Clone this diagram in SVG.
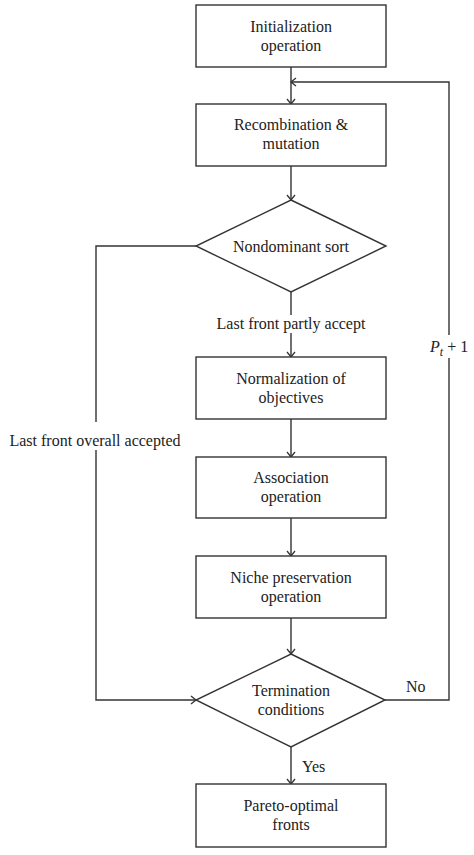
<svg xmlns="http://www.w3.org/2000/svg" width="474" height="855" viewBox="0 0 474 855">
<style>
.box{fill:#fff;stroke:#333;stroke-width:1.4}
.ln{fill:none;stroke:#333;stroke-width:1.4}
text{font-family:"Liberation Serif","Times New Roman",serif;font-size:16px;fill:#222}
.c{text-anchor:middle}
</style>
<defs>
<marker id="ah" markerUnits="userSpaceOnUse" markerWidth="12" markerHeight="12" viewBox="-6 -6 12 12" refX="0" refY="0" orient="auto">
<path d="M-5,-4 L0,0 L-5,4" fill="none" stroke="#333" stroke-width="1.3"/>
</marker>
</defs>
<rect width="474" height="855" fill="#fff"/>
<g id="connectors">
<path class="ln" d="M291,67 V104" marker-end="url(#ah)"/>
<path class="ln" d="M291,166 V200" marker-end="url(#ah)"/>
<path class="ln" d="M291,292 V315"/>
<path class="ln" d="M291,333 V357" marker-end="url(#ah)"/>
<path class="ln" d="M291,419 V457" marker-end="url(#ah)"/>
<path class="ln" d="M291,518 V556" marker-end="url(#ah)"/>
<path class="ln" d="M291,618 V654" marker-end="url(#ah)"/>
<path class="ln" d="M291,747 V784" marker-end="url(#ah)"/>
<path class="ln" d="M196,246 H96 V422"/>
<path class="ln" d="M96,450 V700 H196" marker-end="url(#ah)"/>
<path class="ln" d="M385,700 H449 V358"/>
<path class="ln" d="M449,335 V82 H291" marker-end="url(#ah)"/>
</g>
<g id="n1"><rect class="box" x="196" y="5" width="190" height="62"/><text class="c" x="291" y="32">Initialization</text><text class="c" x="291" y="51">operation</text></g>
<g id="n2"><rect class="box" x="196" y="104" width="190" height="62"/><text class="c" x="291" y="130">Recombination &amp;</text><text class="c" x="291" y="149">mutation</text></g>
<g id="n3"><polygon class="box" points="291,200 386,246 291,292 196,246"/><text class="c" x="291" y="252">Nondominant sort</text></g>
<g id="n4"><rect class="box" x="196" y="357" width="190" height="62"/><text class="c" x="291" y="384">Normalization of</text><text class="c" x="291" y="403">objectives</text></g>
<g id="n5"><rect class="box" x="196" y="457" width="190" height="61"/><text class="c" x="291" y="483">Association</text><text class="c" x="291" y="502">operation</text></g>
<g id="n6"><rect class="box" x="196" y="556" width="190" height="62"/><text class="c" x="291" y="583">Niche preservation</text><text class="c" x="291" y="602">operation</text></g>
<g id="n7"><polygon class="box" points="291,654 385,700 291,747 196,700"/><text class="c" x="291" y="696">Termination</text><text class="c" x="291" y="715">conditions</text></g>
<g id="n8"><rect class="box" x="196" y="784" width="190" height="63"/><text class="c" x="291" y="811">Pareto-optimal</text><text class="c" x="291" y="830">fronts</text></g>
<g id="labels">
<text class="c" x="291" y="329">Last front partly accept</text>
<text class="c" x="95" y="446">Last front overall accepted</text>
<text x="406" y="692">No</text>
<text x="302" y="772">Yes</text>
<text x="430" y="352"><tspan font-style="italic">P</tspan><tspan font-style="italic" font-size="12" dy="4">t</tspan><tspan dy="-4"> + 1</tspan></text>
</g>
</svg>
